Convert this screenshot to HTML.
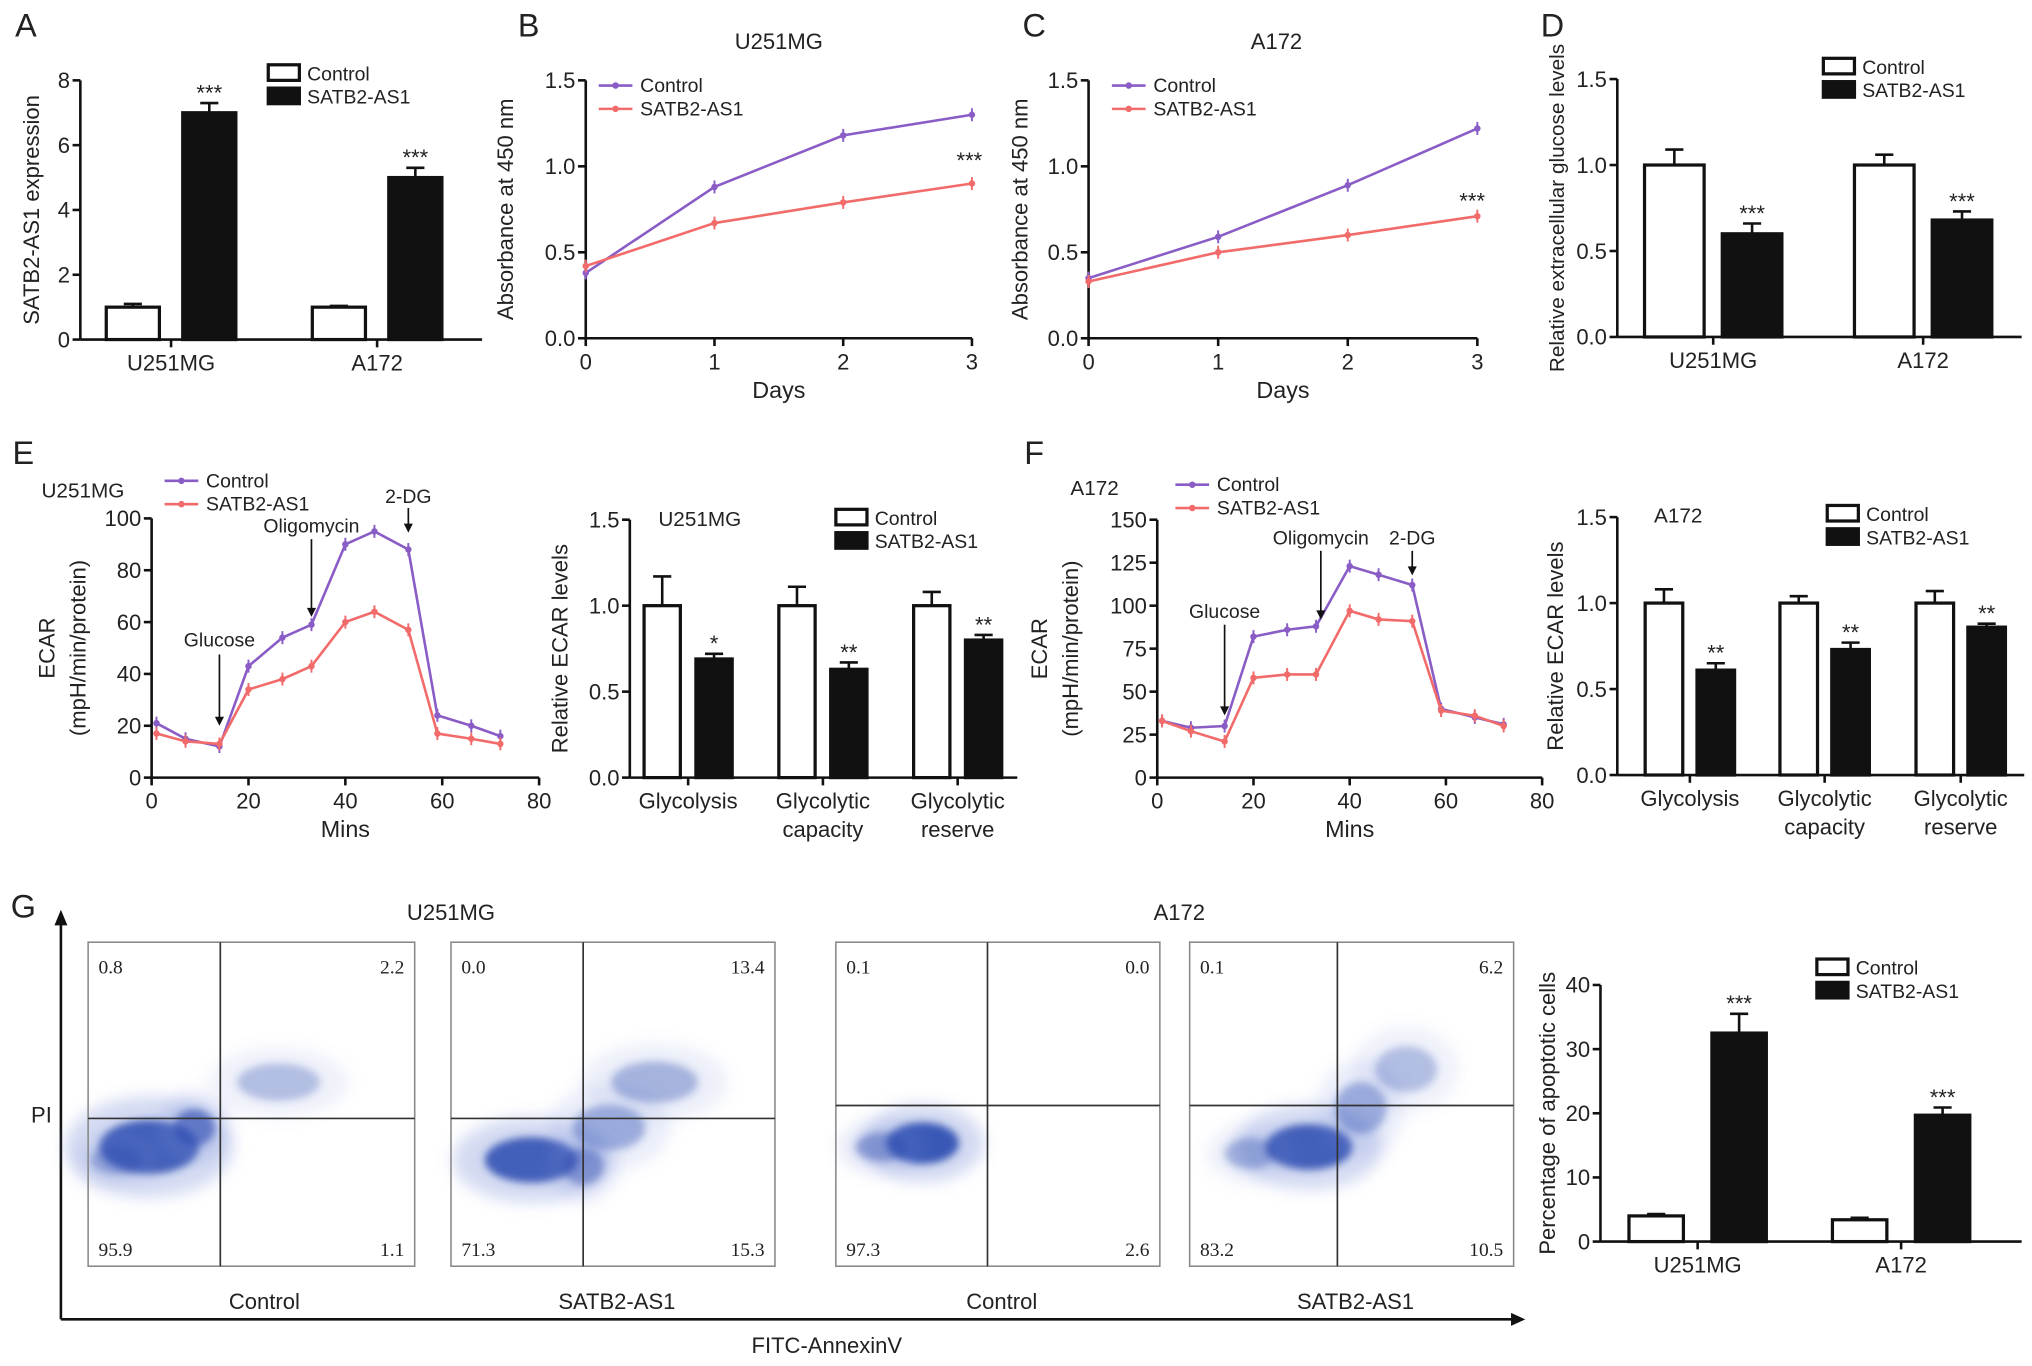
<!DOCTYPE html>
<html><head><meta charset="utf-8"><style>
html,body{margin:0;padding:0;background:#fff;}
svg{display:block;}
text{font-family:"Liberation Sans",Arial,sans-serif;fill:#222;}
.ser{font-family:"Liberation Serif",serif;}
</style></head><body>
<svg id="fig" xmlns="http://www.w3.org/2000/svg" width="2032" height="1366" viewBox="0 0 1568 1054" preserveAspectRatio="none">
<defs>
<filter id="blur" x="-50%" y="-50%" width="200%" height="200%"><feGaussianBlur stdDeviation="6"/></filter>
<filter id="blur2" x="-50%" y="-50%" width="200%" height="200%"><feGaussianBlur stdDeviation="3"/></filter>
</defs>
</svg>
<script>
// ---------- data ----------
const groupsA = ['U251MG','A172'];
const ctrlA = [1.0, 1.0];
const satA = [7.0, 5.0];
const ctrlAerr = [0.1, 0.04];
const satAerr = [0.3, 0.3];

const daysBC = [0,1,2,3];
const ctrlB = [0.38,0.88,1.18,1.30];
const satB = [0.42,0.67,0.79,0.90];
const ctrlC = [0.35,0.59,0.89,1.22];
const satC = [0.33,0.50,0.60,0.71];

const groupsD = ['U251MG','A172'];
const ctrlD = [1.0,1.0];
const satD = [0.60,0.68];
const ctrlDerr = [0.09,0.06];
const satDerr = [0.06,0.05];

const minsE = [1,7,14,20,27,33,40,46,53,59,66,72];
const ctrlE = [21,15,12,43,54,59,90,95,88,24,20,16];
const satE = [17,14,13,34,38,43,60,64,57,17,15,13];
const ctrlF = [33,29,30,82,86,88,123,118,112,40,35,31];
const satF = [33,27,21,58,60,60,97,92,91,39,36,30];

const groupsEF = [['Glycolysis'],['Glycolytic','capacity'],['Glycolytic','reserve']];
const ctrlE2 = [1.0,1.0,1.0];
const satE2 = [0.69,0.63,0.80];
const ctrlE2err = [0.17,0.11,0.08];
const satE2err = [0.03,0.04,0.03];
const starsE2 = ['*','**','**'];
const ctrlF2 = [1.0,1.0,1.0];
const satF2 = [0.61,0.73,0.86];
const ctrlF2err = [0.08,0.04,0.07];
const satF2err = [0.04,0.04,0.02];
const starsF2 = ['**','**','**'];

const groupsG = ['U251MG','A172'];
const ctrlG = [4.0,3.4];
const satG = [32.5,19.7];
const ctrlGerr = [0.3,0.3];
const satGerr = [3.0,1.2];

const quadU1 = ['0.8','2.2','95.9','1.1'];
const quadU2 = ['0.0','13.4','71.3','15.3'];
const quadA1 = ['0.1','0.0','97.3','2.6'];
const quadA2 = ['0.1','6.2','83.2','10.5'];

// ---------- helpers ----------
const NS='http://www.w3.org/2000/svg';
const svg=document.getElementById('fig');
function mk(tag,attrs,parent){const e=document.createElementNS(NS,tag);for(const k in attrs)e.setAttribute(k,attrs[k]);(parent||svg).appendChild(e);return e;}
function txt(x,y,s,size,anchor,rot,cls){const e=mk('text',{x:x,y:y,'font-size':size||16,'text-anchor':anchor||'middle'});if(rot)e.setAttribute('transform','rotate(-90 '+x+' '+y+')');if(cls)e.setAttribute('class',cls);e.textContent=s;return e;}
function line(x1,y1,x2,y2,w,c){return mk('line',{x1:x1,y1:y1,x2:x2,y2:y2,stroke:c||'#111','stroke-width':w||2});}

function label(x,y,s){const e=txt(x,y,s,25,'middle');

}

function yAxis(x,y0,y1,vmax,ticks,fmt,fs){
  const sc=v=>y0-(v/vmax)*(y0-y1);
  const a=line(x,y0,x,y1,2);
  
  
  ticks.forEach(t=>{line(x-6,sc(t),x,sc(t),2);const l=txt(x-8,sc(t)+6,fmt(t),fs||17,'end');
    
    });
  return sc;
}
function barLegend(x,y){
  mk('rect',{x:x,y:y,width:24,height:12,fill:'#fff',stroke:'#111','stroke-width':2.5});
  mk('rect',{x:x,y:y+18,width:24,height:12,fill:'#111',stroke:'#111','stroke-width':2.5});
  const a=txt(x+30,y+12,'Control',15,'start');
  
  
  const b=txt(x+30,y+30,'SATB2-AS1',15,'start');
  
  
}
function bar(x,w,sc,v,err,fill,name){
  const top=sc(v),base=sc(0);
  line(x+w/2,top,x+w/2,sc(v+err),2);line(x+w/2-7,sc(v+err),x+w/2+7,sc(v+err),2);
  const r=mk('rect',{x:x,y:top,width:w,height:base-top,fill:fill,stroke:'#111','stroke-width':2.5});
  
  
}
function barPanel(o){
  const sc=yAxis(o.ax,o.y0,o.y1,o.vmax,o.ticks,o.fmt);
  const xa=line(o.ax,o.y0,o.axEnd,o.y0,2);
  
  
  o.centers.forEach((c,i)=>{
    bar(c-o.gap/2-o.w,o.w,sc,o.ctrl[i],o.cerr[i],'#fff','bar-control-'+i);
    bar(c+o.gap/2,o.w,sc,o.sat[i],o.serr[i],'#111','bar-satb2-'+i);
    line(c,o.y0,c,o.y0+6,2);
    const lines=Array.isArray(o.groups[i])?o.groups[i]:[o.groups[i]];
    lines.forEach((s,j)=>{const l=txt(c,o.y0+24+j*22,s,17);
      
      });
    const st=txt(c+o.gap/2+o.w/2,sc(o.sat[i]+o.serr[i])-2,o.stars[i],17);
    
    
  });
  const yt=txt(o.ylx,(o.y0+o.y1)/2,o.ylab,o.ylfs||17,'middle',true);
  
  
}
function linePanel(o){
  const sy=yAxis(o.ax,o.y0,o.y1,o.ymax,o.yticks,o.fmt);
  const sx=v=>o.ax+(v/o.xmax)*(o.x1-o.ax);
  const xa=line(o.ax,o.y0,o.x1,o.y0,2);
  
  
  o.xticks.forEach(t=>{line(sx(t),o.y0,sx(t),o.y0+6,2);const l=txt(sx(t),o.y0+24,String(t),17);
    
    });
  [[o.ctrl,'#8a5cc6','control'],[o.sat,'#f26b6b','satb2']].forEach(([d,c,n])=>{
    const pts=o.xs.map((x,i)=>sx(x)+','+sy(d[i])).join(' ');
    const p=mk('polyline',{points:pts,fill:'none',stroke:c,'stroke-width':2});
    
    
    o.xs.forEach((x,i)=>{line(sx(x),sy(d[i])-5,sx(x),sy(d[i])+5,1.5,c);
      const m=mk('circle',{cx:sx(x),cy:sy(d[i]),r:2.5,fill:c});
      
      });
  });
  const xt=txt((o.ax+o.x1)/2,o.y0+46,o.xlab,18);
  
  
  o.ylabs.forEach((s,j)=>{const yt=txt(o.ylx+j*24,(o.y0+o.y1)/2,s,17,'middle',true);
    
    });
  return {sx,sy};
}
function lineLegend(x,y){
  line(x,y,x+26,y,2,'#8a5cc6');mk('circle',{cx:x+13,cy:y,r:2.5,fill:'#8a5cc6'});
  line(x,y+18,x+26,y+18,2,'#f26b6b');mk('circle',{cx:x+13,cy:y+18,r:2.5,fill:'#f26b6b'});
  const a=txt(x+32,y+5,'Control',15,'start');
  
  
  const b=txt(x+32,y+23,'SATB2-AS1',15,'start');
  
  
}
function arrowDown(x,yTop,yBot,lab,labY){
  line(x,yTop,x,yBot-6,1.3);
  mk('path',{d:`M${x-3.5},${yBot-7} L${x+3.5},${yBot-7} L${x},${yBot} Z`,fill:'#111'});
  const t=txt(x,labY,lab,15);
  
  
}

// ---------- Panel A ----------
label(20,28,'A');
barPanel({ax:62,axEnd:372,y0:262,y1:62,vmax:8,ticks:[0,2,4,6,8],fmt:t=>String(t),
  centers:[132,291],gap:18,w:41,ctrl:ctrlA,sat:satA,cerr:ctrlAerr,serr:satAerr,groups:groupsA,
  stars:['***','***'],ylx:30,ylab:'SATB2-AS1 expression'});
barLegend(207,50);

// ---------- Panel B ----------
label(408,28,'B');
txt(601,38,'U251MG',17);
const fmt1=t=>t.toFixed(1);
const pB=linePanel({ax:452,x1:750,xmax:3,y0:261,y1:62,ymax:1.5,yticks:[0,0.5,1.0,1.5],fmt:fmt1,
  xs:daysBC,ctrl:ctrlB,sat:satB,xticks:[0,1,2,3],xlab:'Days',ylabs:['Absorbance at 450 nm'],ylx:396});
lineLegend(462,66);
txt(pB.sx(3)-2,pB.sy(satB[3])-12,'***',17);

// ---------- Panel C ----------
label(798,28,'C');
txt(985,38,'A172',17);
const pC=linePanel({ax:840,x1:1140,xmax:3,y0:261,y1:62,ymax:1.5,yticks:[0,0.5,1.0,1.5],fmt:fmt1,
  xs:daysBC,ctrl:ctrlC,sat:satC,xticks:[0,1,2,3],xlab:'Days',ylabs:['Absorbance at 450 nm'],ylx:793});
lineLegend(858,66);
txt(pC.sx(3)-4,pC.sy(satC[3])-6,'***',17);

// ---------- Panel D ----------
label(1198,28,'D');
barPanel({ax:1248,axEnd:1560,y0:260,y1:61,vmax:1.5,ticks:[0,0.5,1.0,1.5],fmt:fmt1,
  centers:[1322,1484],gap:14,w:46,ctrl:ctrlD,sat:satD,cerr:ctrlDerr,serr:satDerr,groups:groupsD,
  stars:['***','***'],ylx:1207,ylab:'Relative extracellular glucose levels',ylfs:16});
barLegend(1407,45);

// ---------- Panel E (line) ----------
label(18,358,'E');
txt(32,384,'U251MG',16,'start');
const pE=linePanel({ax:117,x1:416,xmax:80,y0:600,y1:400,ymax:100,yticks:[0,20,40,60,80,100],fmt:t=>String(t),
  xs:minsE,ctrl:ctrlE,sat:satE,xticks:[0,20,40,60,80],xlab:'Mins',ylabs:['ECAR','(mpH/min/protein)'],ylx:42});
lineLegend(127,371);
arrowDown(pE.sx(14),505,560,'Glucose',499);
arrowDown(pE.sx(33),416,476,'Oligomycin',411);
arrowDown(pE.sx(53),392,411,'2-DG',388);

// ---------- Panel E (bars) ----------
barPanel({ax:486,axEnd:785,y0:600,y1:401,vmax:1.5,ticks:[0,0.5,1.0,1.5],fmt:fmt1,
  centers:[531,635,739],gap:12,w:28,ctrl:ctrlE2,sat:satE2,cerr:ctrlE2err,serr:satE2err,groups:groupsEF,
  stars:starsE2,ylx:438,ylab:'Relative ECAR levels'});
txt(540,406,'U251MG',16);
barLegend(645,393);

// ---------- Panel F (line) ----------
label(798,358,'F');
txt(826,382,'A172',16,'start');
const pF=linePanel({ax:893,x1:1190,xmax:80,y0:600,y1:401,ymax:150,yticks:[0,25,50,75,100,125,150],fmt:t=>String(t),
  xs:minsE,ctrl:ctrlF,sat:satF,xticks:[0,20,40,60,80],xlab:'Mins',ylabs:['ECAR','(mpH/min/protein)'],ylx:808});
lineLegend(907,374);
arrowDown(pF.sx(14),482,552,'Glucose',477);
arrowDown(pF.sx(34),425,478,'Oligomycin',420);
arrowDown(pF.sx(53),425,444,'2-DG',420);

// ---------- Panel F (bars) ----------
barPanel({ax:1248,axEnd:1562,y0:598,y1:399,vmax:1.5,ticks:[0,0.5,1.0,1.5],fmt:fmt1,
  centers:[1304,1408,1513],gap:11,w:29,ctrl:ctrlF2,sat:satF2,cerr:ctrlF2err,serr:satF2err,groups:groupsEF,
  stars:starsF2,ylx:1206,ylab:'Relative ECAR levels'});
txt(1295,403,'A172',16);
barLegend(1410,390);

// ---------- Panel G (flow) ----------
label(18,708,'G');
line(47,1018,1168,1018,2);
mk('path',{d:'M1166,1013 L1177,1018 L1166,1023 Z',fill:'#111'});
line(47,1018,47,712,2);
mk('path',{d:'M42,714 L47,702 L52,714 Z',fill:'#111'});
txt(32,866,'PI',17);
txt(638,1044,'FITC-AnnexinV',17);
txt(348,710,'U251MG',17);
txt(910,710,'A172',17);
const boxes=[
 {x:68,y:727,w:252,h:250,vx:170,hy:863,q:quadU1,lab:'Control',blobs:[[115,885,48,26,0.95],[150,870,20,18,0.7],[215,835,40,18,0.35],[90,895,25,14,0.4]]},
 {x:348,y:727,w:250,h:250,vx:450,hy:863,q:quadU2,lab:'SATB2-AS1',blobs:[[410,895,45,22,0.95],[470,870,35,22,0.45],[505,835,42,20,0.4],[450,900,20,18,0.5]]},
 {x:645,y:727,w:250,h:250,vx:762,hy:853,q:quadA1,lab:'Control',blobs:[[712,882,35,20,1],[680,885,25,14,0.5]]},
 {x:918,y:727,w:250,h:250,vx:1032,hy:853,q:quadA2,lab:'SATB2-AS1',blobs:[[1010,885,42,22,0.95],[1050,855,25,25,0.45],[1085,825,30,22,0.35],[965,890,25,15,0.4]]}];
boxes.forEach((b,i)=>{
  const g=mk('g',{});
  
  
  b.blobs.forEach(([cx,cy,rx,ry,op])=>{
    mk('ellipse',{cx:cx,cy:cy,rx:rx*1.35,ry:ry*1.5,fill:'#7b8fd8','fill-opacity':op*0.35,filter:'url(#blur)'},g);
    mk('ellipse',{cx:cx,cy:cy,rx:rx*0.8,ry:ry*0.8,fill:'#2a4bb0','fill-opacity':op*0.9,filter:'url(#blur2)'},g);
  });
  mk('rect',{x:b.x,y:b.y,width:b.w,height:b.h,fill:'none',stroke:'#888','stroke-width':1.2},g);
  mk('line',{x1:b.vx,y1:b.y,x2:b.vx,y2:b.y+b.h,stroke:'#333','stroke-width':1.3},g);
  mk('line',{x1:b.x,y1:b.hy,x2:b.x+b.w,y2:b.hy,stroke:'#333','stroke-width':1.3},g);
  txt(b.x+8,b.y+24,b.q[0],15,'start',false,'ser');
  txt(b.x+b.w-8,b.y+24,b.q[1],15,'end',false,'ser');
  txt(b.x+8,b.y+b.h-8,b.q[2],15,'start',false,'ser');
  txt(b.x+b.w-8,b.y+b.h-8,b.q[3],15,'end',false,'ser');
  const l=txt(b.x+b.w/2-(i==0?-10:-3),1010,b.lab,17);
  
  
});

// ---------- Panel G (bars) ----------
barPanel({ax:1235,axEnd:1560,y0:958,y1:760,vmax:40,ticks:[0,10,20,30,40],fmt:t=>String(t),
  centers:[1310,1467],gap:22,w:42,ctrl:ctrlG,sat:satG,cerr:ctrlGerr,serr:satGerr,groups:groupsG,
  stars:['***','***'],ylx:1200,ylab:'Percentage of apoptotic cells'});
barLegend(1402,740);
</script>
</body></html>
